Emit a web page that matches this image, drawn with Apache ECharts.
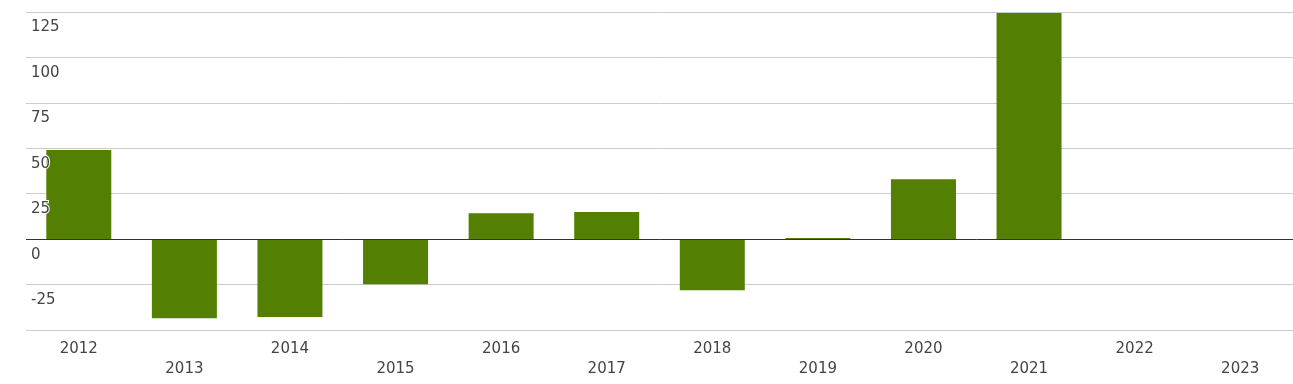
<!DOCTYPE html>
<html><head><meta charset="utf-8">
<script src="https://cdn.jsdelivr.net/npm/echarts@6/dist/echarts.min.js"></script>
<style>html,body{margin:0;padding:0;background:#fff}#c{width:1293px;height:384px}</style>
</head><body><div id="c"></div>
<script>
const categories = ['2012','2013','2014','2015','2016','2017','2018','2019','2020','2021','2022','2023'];
const values = [49.0, -43.5, -42.9, -24.8, 14.3, 14.9, -28.1, 0.6, 33.0, 124.5, null, null];

const chart = echarts.init(document.getElementById('c'), null, {renderer:'canvas'});
const yCommon = {type: 'value', min: -50, max: 125, interval: 25, axisLine: {show: false}, axisTick: {show: false}};
chart.setOption({
  animation: false,
  grid: {left: 26, right: 0, top: 12, bottom: 54},
  xAxis: {
    type: 'category',
    data: categories,
    axisLine: {show: false},
    axisTick: {show: false},
    axisLabel: {
      interval: 0, margin: 9, color: '#444', fontFamily: 'DejaVu Sans', fontSize: 15, lineHeight: 20,
      formatter: (v, i) => (i % 2 === 1 ? '\n' + v : v)
    }
  },
  yAxis: [
    Object.assign({}, yCommon, {
      splitLine: {lineStyle: {color: '#ccc', width: 1}},
      axisLabel: {show: false}
    }),
    Object.assign({}, yCommon, {
      position: 'left', z: 10,
      splitLine: {show: false},
      axisLabel: {
        inside: true, showMinLabel: false, margin: 5, align: 'left', verticalAlign: 'top',
        padding: [8, 0, 0, 0],
        color: '#444', fontFamily: 'DejaVu Sans', fontSize: 15,
        textBorderColor: '#fff', textBorderWidth: 2
      }
    })
  ],
  series: [{
    type: 'bar', data: values, barWidth: 65, yAxisIndex: 0,
    itemStyle: {color: '#538002'},
    markLine: {
      silent: true, symbol: ['none','none'], label: {show: false},
      lineStyle: {color: '#333', width: 1, type: 'solid'},
      data: [{yAxis: 0}]
    }
  }]
});
</script></body></html>
